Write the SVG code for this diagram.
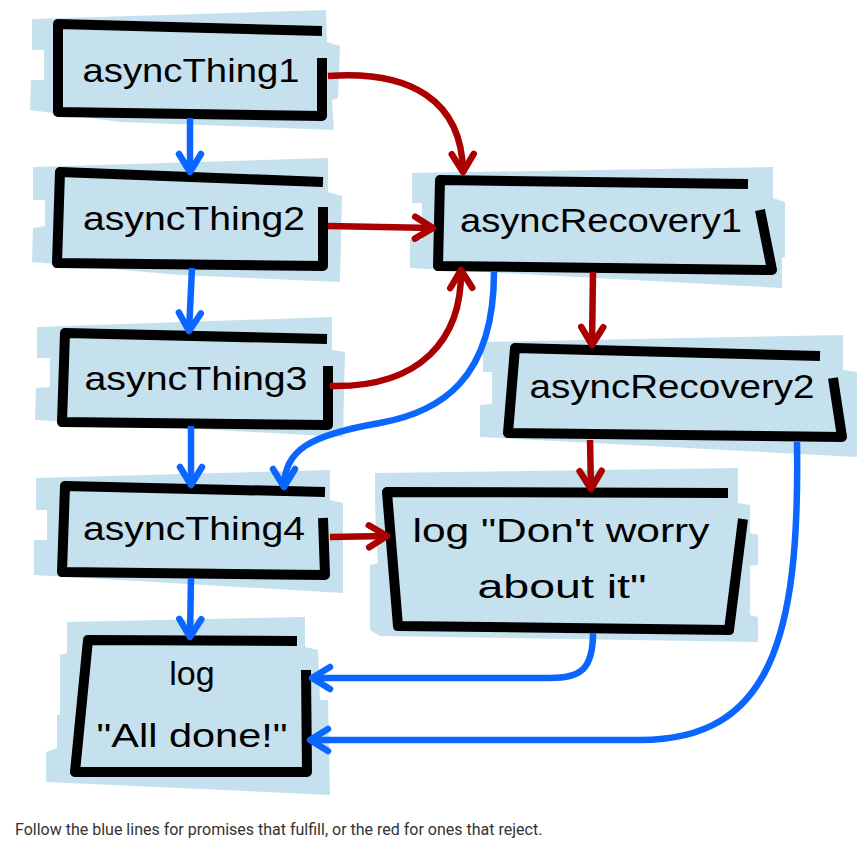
<svg xmlns="http://www.w3.org/2000/svg" width="868" height="854" viewBox="0 0 868 854">
<style>
.bg{fill:#c6e1ee;stroke:none}
.box{fill:none;stroke:#000;stroke-width:10;stroke-linejoin:round;stroke-linecap:butt}
.lbl{font-family:"Liberation Sans","DejaVu Sans",sans-serif;font-size:34px;fill:#000;text-anchor:middle}
.blue{fill:none;stroke:#0a66ff;stroke-width:6.5;marker-end:url(#ab)}
.red{fill:none;stroke:#aa0000;stroke-width:6.5;marker-end:url(#ar)}
.cap{font-family:Roboto,"Liberation Sans",sans-serif;font-size:16px;fill:#333}
</style>
<defs>
<marker id="ab" markerUnits="userSpaceOnUse" viewBox="-25 -15 30 30" markerWidth="30" markerHeight="30" refX="0" refY="0" orient="auto" overflow="visible">
<path d="M-18,-11 L0,0 L-18,11" fill="none" stroke="#0a66ff" stroke-width="6.5" stroke-linecap="round" stroke-linejoin="round"/>
</marker>
<marker id="ar" markerUnits="userSpaceOnUse" viewBox="-25 -15 30 30" markerWidth="30" markerHeight="30" refX="0" refY="0" orient="auto" overflow="visible">
<path d="M-18,-11 L0,0 L-18,11" fill="none" stroke="#aa0000" stroke-width="6.5" stroke-linecap="round" stroke-linejoin="round"/>
</marker>
</defs>
<rect width="868" height="854" fill="#fff"/>

<g id="asyncThing1">
<polygon class="bg" points="32,19 326,10 327,42 340,46 338,98 332,100 334,130 120,122 30,110 31,80 44,80 44,50 32,50"/>
<path class="box" d="M322,31 L58,24 L58,112 L322,116 L322,58"/>
<text class="lbl" x="191" y="82" textLength="217" lengthAdjust="spacingAndGlyphs">asyncThing1</text>
</g>
<g id="asyncThing2">
<polygon class="bg" points="33,167 328,158 328,192 342,196 340,282 180,275 32,262 33,228 45,226 45,200 33,200"/>
<path class="box" d="M323,182 L60,172 L57,263 L323,266 L323,207"/>
<text class="lbl" x="194" y="230" textLength="222" lengthAdjust="spacingAndGlyphs">asyncThing2</text>
</g>
<g id="asyncThing3">
<polygon class="bg" points="37,327 332,317 332,350 345,352 343,437 35,420 36,388 50,387 50,358 37,358"/>
<path class="box" d="M327,339 L65,333 L62,422 L328,425 L328,366"/>
<text class="lbl" x="196" y="390" textLength="223" lengthAdjust="spacingAndGlyphs">asyncThing3</text>
</g>
<g id="asyncThing4">
<polygon class="bg" points="36,478 330,470 330,500 343,503 343,593 34,575 34,540 47,540 47,510 36,510"/>
<path class="box" d="M325,492 L65,486 L62,572 L325,575 L323,518"/>
<text class="lbl" x="194" y="540" textLength="222" lengthAdjust="spacingAndGlyphs">asyncThing4</text>
</g>
<g id="allDone">
<polygon class="bg" points="67,622 305,617 305,647 318,650 320,700 328,700 330,795 46,782 46,752 57,748 57,715 60,715 60,655 67,653"/>
<path class="box" d="M297,641 L88,640 L75,772 L307,772 L306,670"/>
<text class="lbl" x="192" y="685">log</text>
<text class="lbl" x="192" y="747" textLength="191" lengthAdjust="spacingAndGlyphs">"All done!"</text>
</g>
<g id="asyncRecovery1">
<polygon class="bg" points="412,173 773,167 773,198 785,202 785,257 782,258 782,288 410,268 410,240 422,240 422,203 412,203"/>
<path class="box" d="M748,184 L440,180 L438,266 L772,270 L760,210"/>
<text class="lbl" x="601" y="232" textLength="282" lengthAdjust="spacingAndGlyphs">asyncRecovery1</text>
</g>
<g id="asyncRecovery2">
<polygon class="bg" points="483,342 843,335 843,370 857,372 857,457 480,437 480,405 492,404 492,372 483,372"/>
<path class="box" d="M820,356 L515,348 L508,433 L842,437 L833,378"/>
<text class="lbl" x="672" y="398" textLength="285" lengthAdjust="spacingAndGlyphs">asyncRecovery2</text>
</g>
<g id="dontWorry">
<polygon class="bg" points="375,473 738,468 738,503 750,505 750,533 758,535 758,565 750,566 750,615 758,617 758,642 380,636 370,630 370,565 378,563 376,530 375,500"/>
<path class="box" d="M728,493 L387,492 L398,626 L729,630 L743,519"/>
<text class="lbl" x="561" y="542" textLength="297" lengthAdjust="spacingAndGlyphs">log "Don't worry</text>
<text class="lbl" x="562" y="598" textLength="169" lengthAdjust="spacingAndGlyphs">about it"</text>
</g>

<g id="connectors">
<path class="blue" d="M190,118 L190,172"/>
<path class="blue" d="M192,268 L189,331"/>
<path class="blue" d="M191,426 L191,485"/>
<path class="blue" d="M191,578 L190,637"/>
<path class="blue" d="M494,272 C494,380 440,412 380,423 C310,435 284,450 284,487"/>
<path class="blue" d="M593,633 C593,670 580,678 550,678 L312,678"/>
<path class="blue" d="M797,442 C800,640 770,740 640,740 L310,740"/>
<path class="red" d="M328,76 C410,70 462,100 463,172"/>
<path class="red" d="M328,226 L433,228"/>
<path class="red" d="M330,386 C420,388 462,340 461,270"/>
<path class="red" d="M593,272 L592,345"/>
<path class="red" d="M330,537 L387,536"/>
<path class="red" d="M590,440 L591,489"/>
</g>

<text class="cap" x="15" y="835">Follow the blue lines for promises that fulfill, or the red for ones that reject.</text>
</svg>
